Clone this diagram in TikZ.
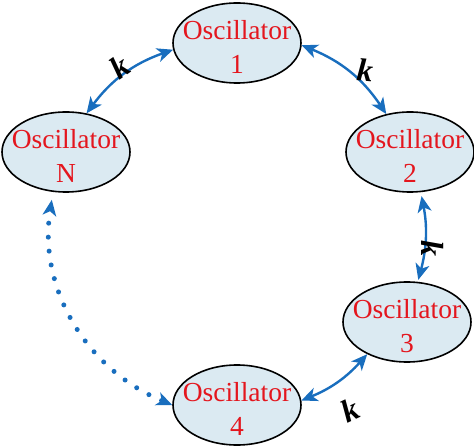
\documentclass[tikz,border=0pt]{standalone}
\usepackage{fontspec}
\setmainfont{Liberation Serif}
\usetikzlibrary{shapes.geometric,arrows.meta}
\definecolor{oscblue}{RGB}{25,110,190}
\definecolor{oscfill}{RGB}{219,234,242}
\definecolor{oscred}{RGB}{228,22,30}
\newcommand\osctext[1]{\rule{0pt}{27pt}Oscillator\\#1}
\tikzset{
  osc/.style={ellipse, draw=black, line width=1.6pt, fill=oscfill,
    minimum width=128pt, minimum height=80pt, inner xsep=-10pt, inner ysep=-3pt,
    align=center, text=oscred, font=\fontsize{27.5}{34}\selectfont},
  link/.style={draw=oscblue, line width=2.4pt,
    {Stealth[length=16pt,width=14pt,inset=4.5pt]}-{Stealth[length=16pt,width=14pt,inset=4.5pt]}},
  far/.style={link, line width=5pt, line cap=round, dash pattern=on 0pt off 14pt,
    {Stealth[length=16pt,width=14pt,inset=4.5pt,line width=0pt]}-{Stealth[length=16pt,width=14pt,inset=4.5pt,line width=0pt]}},
  klabel/.style={font=\fontsize{32}{34}\selectfont\bfseries\itshape, inner sep=0pt}
}
\begin{document}
\begin{tikzpicture}[x=1pt,y=1pt]
\useasboundingbox (0,0) rectangle (474,445);

\node[osc] (o1) at (237,402) {\osctext{1}};
\node[osc] (o2) at (410,293) {\osctext{2}};
\node[osc] (o3) at (407,123) {\osctext{3}};
\node[osc] (o4) at (237,40) {\osctext{4}};
\node[osc] (oN) at (66,293) {\osctext{N}};

\draw[link] (oN.62) to[bend left=17] (o1.186);
\draw[link] (o1.358) to[bend left=17] (o2.122);
\draw[link, shorten <=4pt, shorten >=2pt] (o2.-75) to[bend left=13] (o3.75);
\draw[link] (o3.219) to[bend left=13] (o4.4);
\draw[far, shorten >=8pt] (o4.180) to[bend left=38] (oN.252);

\node[klabel, rotate=35] (k1) at (120,378) {k};
\node[klabel, rotate=-5] (k2) at (365,375) {k};
\node[klabel, rotate=-90] (k3) at (433,197) {k};
\node[klabel, rotate=25] (k4) at (350,35) {k};

\end{tikzpicture}
\end{document}
